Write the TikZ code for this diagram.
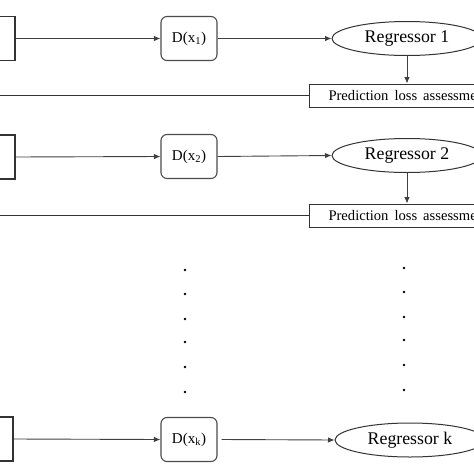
\documentclass[tikz,border=0pt]{standalone}
\usepackage{fontspec}
\setmainfont{Liberation Serif}
\usetikzlibrary{shapes.geometric,arrows.meta}
\tikzset{
  inbox/.style={draw=black!80, line width=1.2pt, minimum width=55pt, minimum height=44pt, inner sep=0pt},
  dbox/.style={draw=black!70, line width=1.1pt, rounded corners=6pt, minimum width=56pt, minimum height=44pt, inner sep=0pt, font=\fontsize{15}{18}\selectfont},
  regell/.style={ellipse, draw=black!80, line width=1pt, minimum width=150pt, minimum height=34pt, inner sep=0pt, font=\fontsize{17.8}{20}\selectfont},
  lossbox/.style={draw=black!80, line width=1pt, anchor=west, minimum height=23pt, inner xsep=19pt, inner ysep=0pt, font=\fontsize{14.6}{16}\selectfont},
  conn/.style={draw=black!75, line width=0.9pt, -{Latex[length=6.5pt,width=5.5pt]}},
  fbline/.style={draw=black!80, line width=1.1pt},
  vdot/.style={circle, fill=black, inner sep=0pt, minimum size=2.8pt}
}
\newcommand{\plat}{Prediction\hspace{6pt}loss\hspace{6pt}assessment}
\begin{document}
\begin{tikzpicture}[x=1pt,y=-1pt]
\useasboundingbox (0,0) rectangle (474,474);
\clip (0,0) rectangle (474,474);
\fill[white] (0,0) rectangle (474,474);
% row 1
\node[inbox] (in1) at (-12.5,38.5) {};
\node[dbox] (d1) at (189,38.5) {D(x\textsubscript{1})};
\node[regell] (reg1) at (407,38.5) {Regressor 1};
\node[lossbox] (loss1) at (309,95.5) {\plat};
\coordinate (fb1) at (-10,95.5);
\draw[conn] (in1.east) -- (d1.west);
\draw[conn] (d1.east) -- (reg1.west);
\draw[conn] (reg1.south) -- (reg1.south |- loss1.north);
\draw[fbline] (loss1.west) -- (fb1);
% row 2
\node[inbox] (in2) at (-12.5,157) {};
\node[dbox] (d2) at (189,156.5) {D(x\textsubscript{2})};
\node[regell] (reg2) at (407,155.5) {Regressor 2};
\node[lossbox] (loss2) at (309,215.5) {\plat};
\coordinate (fb2) at (-10,215.5);
\draw[conn] (in2.east) -- (d2.west);
\draw[conn] (d2.east) -- (reg2.west);
\draw[conn] (reg2.south) -- (reg2.south |- loss2.north);
\draw[fbline] (loss2.west) -- (fb2);
% dots
\foreach \i/\y in {1/270,2/294,3/319,4/342,5/367,6/392}{
  \node[vdot] (da\i) at (185,\y) {};
}
\foreach \i/\y in {1/268,2/292,3/317,4/340,5/365,6/390}{
  \node[vdot] (db\i) at (404,\y) {};
}
% row k
\node[inbox] (ink) at (-14.5,439) {};
\node[dbox] (dk) at (189,439.5) {D(x\textsubscript{k})};
\node[regell] (regk) at (410,440) {Regressor k};
\draw[conn] (ink.east) -- (dk.west);
\draw[conn] ([xshift=4pt]dk.east) -- (regk.west);
\end{tikzpicture}
\end{document}
